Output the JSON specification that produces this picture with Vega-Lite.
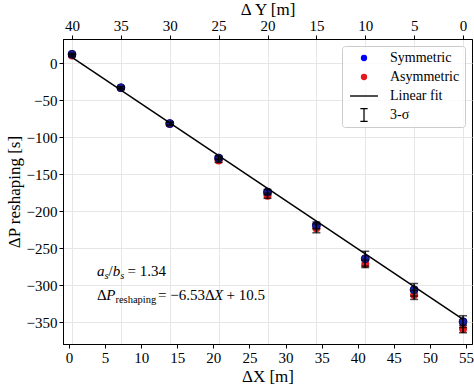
{
  "$schema": "https://vega.github.io/schema/vega-lite/v6.json",
  "width": 409,
  "height": 305,
  "autosize": {"type": "none"},
  "padding": {"left": 63, "top": 39, "right": 2, "bottom": 43},
  "config": {
    "font": "Liberation Serif",
    "view": {"stroke": "black", "strokeWidth": 1},
    "axis": {
      "labelFont": "Liberation Serif", "titleFont": "Liberation Serif",
      "labelFontSize": 15, "titleFontSize": 17, "titleFontWeight": "normal",
      "labelColor": "black", "titleColor": "black", "domainColor": "black",
      "tickColor": "black", "tickSize": 4, "gridColor": "#e6e6e6", "gridWidth": 1,
      "labelPadding": 2, "titlePadding": 3
    },
    "legend": {
      "labelFont": "Liberation Serif", "labelFontSize": 14, "labelColor": "black",
      "padding": 5, "strokeColor": "#cccccc", "fillColor": "rgba(255,255,255,0.8)",
      "cornerRadius": 3, "symbolSize": 40, "labelOffset": 19, "rowPadding": 5, "symbolOffset": 10
    }
  },
  "datasets": {
    "points": [
      {"series": "Asymmetric", "dX": 0.416, "dY": 40, "value": 10.5, "err": 1.5},
      {"series": "Asymmetric", "dX": 7.19, "dY": 35, "value": -33.5, "err": 1.5},
      {"series": "Asymmetric", "dX": 13.96, "dY": 30, "value": -82, "err": 2},
      {"series": "Asymmetric", "dX": 20.73, "dY": 25, "value": -131.5, "err": 2.5},
      {"series": "Asymmetric", "dX": 27.5, "dY": 20, "value": -179, "err": 3.5},
      {"series": "Asymmetric", "dX": 34.27, "dY": 15, "value": -223, "err": 6},
      {"series": "Asymmetric", "dX": 41.04, "dY": 10, "value": -271, "err": 5},
      {"series": "Asymmetric", "dX": 47.81, "dY": 5, "value": -313, "err": 6},
      {"series": "Asymmetric", "dX": 54.59, "dY": 0, "value": -359, "err": 5},
      {"series": "Symmetric", "dX": 0.416, "dY": 40, "value": 12, "err": 1.5},
      {"series": "Symmetric", "dX": 7.19, "dY": 35, "value": -33, "err": 1.5},
      {"series": "Symmetric", "dX": 13.96, "dY": 30, "value": -81.5, "err": 2},
      {"series": "Symmetric", "dX": 20.73, "dY": 25, "value": -128, "err": 2.5},
      {"series": "Symmetric", "dX": 27.5, "dY": 20, "value": -174, "err": 3.5},
      {"series": "Symmetric", "dX": 34.27, "dY": 15, "value": -219, "err": 4.5},
      {"series": "Symmetric", "dX": 41.04, "dY": 10, "value": -264, "err": 10},
      {"series": "Symmetric", "dX": 47.81, "dY": 5, "value": -306, "err": 8.5},
      {"series": "Symmetric", "dX": 54.59, "dY": 0, "value": -349, "err": 8}
    ],
    "fit": [
      {"dX": 0.416, "fit": 7.78},
      {"dX": 54.59, "fit": -345.97}
    ],
    "one": [{}]
  },
  "layer": [
    {
      "data": {"name": "points"},
      "mark": {"type": "point", "filled": true, "opacity": 1, "size": 64},
      "encoding": {
        "x": {"field": "dX", "type": "quantitative", "title": "ΔX [m]",
              "scale": {"domain": [-0.831, 55.83], "nice": false, "zero": false},
              "axis": {"orient": "bottom", "values": [0, 5, 10, 15, 20, 25, 30, 35, 40, 45, 50, 55], "grid": false}},
        "y": {"field": "value", "type": "quantitative", "title": "ΔP reshaping [s]",
              "scale": {"domain": [-379.2, 32.7], "nice": false, "zero": false},
              "axis": {"values": [-350, -300, -250, -200, -150, -100, -50, 0], "grid": true}},
        "color": {"field": "series", "type": "nominal",
                  "scale": {"domain": ["Symmetric", "Asymmetric", "Linear fit", "3-σ"], "range": ["#0000ff", "#e41a1c", "black", "black"]},
                  "legend": {"title": null, "orient": "top-right", "offset": 7}},
        "shape": {"field": "series", "type": "nominal",
                  "scale": {"domain": ["Symmetric", "Asymmetric", "Linear fit", "3-σ"], "range": ["circle", "circle", "M-4.4,-0.22L4.4,-0.22L4.4,0.22L-4.4,0.22Z", "M-0.2,-2.2L0.2,-2.2L0.2,2.2L-0.2,2.2ZM-1.15,-2.2L1.15,-2.2L1.15,-1.8L-1.15,-1.8ZM-1.15,1.8L1.15,1.8L1.15,2.2L-1.15,2.2Z"]},
                  "legend": {"title": null, "orient": "top-right", "offset": 7}}
      }
    },
    {
      "data": {"name": "points"},
      "transform": [{"filter": "datum.series === 'Symmetric'"}],
      "mark": {"type": "point", "opacity": 0},
      "encoding": {
        "x": {"field": "dY", "type": "quantitative", "title": "Δ Y [m]",
              "scale": {"domain": [-0.92, 40.92], "reverse": true, "nice": false, "zero": false},
              "axis": {"orient": "top", "values": [0, 5, 10, 15, 20, 25, 30, 35, 40], "grid": true, "titlePadding": 0}},
        "y": {"field": "value", "type": "quantitative", "title": "ΔP reshaping [s]", "scale": {"domain": [-379.2, 32.7], "nice": false, "zero": false}}
      }
    },
    {
      "data": {"name": "points"},
      "transform": [{"filter": "datum.series === 'Symmetric'"}],
      "mark": {"type": "point", "filled": true, "opacity": 1, "size": 64, "fill": "#1c1c9c", "stroke": "#0c0c5c", "strokeWidth": 0.8},
      "encoding": {
        "x": {"field": "dX", "type": "quantitative", "scale": {"domain": [-0.831, 55.83], "nice": false, "zero": false}, "axis": null},
        "y": {"field": "value", "type": "quantitative", "title": "ΔP reshaping [s]", "scale": {"domain": [-379.2, 32.7], "nice": false, "zero": false}}
      }
    },
    {
      "data": {"name": "points"},
      "mark": {"type": "errorbar", "ticks": true, "color": "black", "thickness": 1.5, "size": 8},
      "encoding": {
        "x": {"field": "dX", "type": "quantitative", "scale": {"domain": [-0.831, 55.83], "nice": false, "zero": false}, "axis": null},
        "y": {"field": "value", "type": "quantitative", "title": "ΔP reshaping [s]", "scale": {"domain": [-379.2, 32.7], "nice": false, "zero": false}},
        "yError": {"field": "err"}
      }
    },
    {
      "data": {"name": "fit"},
      "mark": {"type": "line", "color": "black", "strokeWidth": 1.5},
      "encoding": {
        "x": {"field": "dX", "type": "quantitative", "scale": {"domain": [-0.831, 55.83], "nice": false, "zero": false}, "axis": null},
        "y": {"field": "fit", "type": "quantitative", "title": "ΔP reshaping [s]", "scale": {"domain": [-379.2, 32.7], "nice": false, "zero": false}}
      }
    },
    {"data": {"name": "one"}, "mark": {"type": "text", "text": "a", "align": "left", "baseline": "alphabetic", "fontSize": 15, "fontStyle": "italic", "dx": 0},
     "encoding": {"x": {"datum": 3.88, "type": "quantitative", "scale": {"domain": [-0.831, 55.83], "nice": false, "zero": false}, "axis": null}, "y": {"datum": -287.7, "type": "quantitative", "title": "ΔP reshaping [s]"}}},
    {"data": {"name": "one"}, "mark": {"type": "text", "text": "s", "align": "left", "baseline": "alphabetic", "fontSize": 10.5, "fontStyle": "italic", "dx": 7.5, "dy": 3},
     "encoding": {"x": {"datum": 3.88, "type": "quantitative", "scale": {"domain": [-0.831, 55.83], "nice": false, "zero": false}, "axis": null}, "y": {"datum": -287.7, "type": "quantitative", "title": "ΔP reshaping [s]"}}},
    {"data": {"name": "one"}, "mark": {"type": "text", "text": "/", "align": "left", "baseline": "alphabetic", "fontSize": 15, "dx": 11.6},
     "encoding": {"x": {"datum": 3.88, "type": "quantitative", "scale": {"domain": [-0.831, 55.83], "nice": false, "zero": false}, "axis": null}, "y": {"datum": -287.7, "type": "quantitative", "title": "ΔP reshaping [s]"}}},
    {"data": {"name": "one"}, "mark": {"type": "text", "text": "b", "align": "left", "baseline": "alphabetic", "fontSize": 15, "fontStyle": "italic", "dx": 15.8},
     "encoding": {"x": {"datum": 3.88, "type": "quantitative", "scale": {"domain": [-0.831, 55.83], "nice": false, "zero": false}, "axis": null}, "y": {"datum": -287.7, "type": "quantitative", "title": "ΔP reshaping [s]"}}},
    {"data": {"name": "one"}, "mark": {"type": "text", "text": "s", "align": "left", "baseline": "alphabetic", "fontSize": 10.5, "fontStyle": "italic", "dx": 23.3, "dy": 3},
     "encoding": {"x": {"datum": 3.88, "type": "quantitative", "scale": {"domain": [-0.831, 55.83], "nice": false, "zero": false}, "axis": null}, "y": {"datum": -287.7, "type": "quantitative", "title": "ΔP reshaping [s]"}}},
    {"data": {"name": "one"}, "mark": {"type": "text", "text": "= 1.34", "align": "left", "baseline": "alphabetic", "fontSize": 15, "dx": 30.5},
     "encoding": {"x": {"datum": 3.88, "type": "quantitative", "scale": {"domain": [-0.831, 55.83], "nice": false, "zero": false}, "axis": null}, "y": {"datum": -287.7, "type": "quantitative", "title": "ΔP reshaping [s]"}}},
    {"data": {"name": "one"}, "mark": {"type": "text", "text": "Δ", "align": "left", "baseline": "alphabetic", "fontSize": 15, "dx": 0},
     "encoding": {"x": {"datum": 3.88, "type": "quantitative", "scale": {"domain": [-0.831, 55.83], "nice": false, "zero": false}, "axis": null}, "y": {"datum": -320, "type": "quantitative", "title": "ΔP reshaping [s]"}}},
    {"data": {"name": "one"}, "mark": {"type": "text", "text": "P", "align": "left", "baseline": "alphabetic", "fontSize": 15, "fontStyle": "italic", "dx": 9.2},
     "encoding": {"x": {"datum": 3.88, "type": "quantitative", "scale": {"domain": [-0.831, 55.83], "nice": false, "zero": false}, "axis": null}, "y": {"datum": -320, "type": "quantitative", "title": "ΔP reshaping [s]"}}},
    {"data": {"name": "one"}, "mark": {"type": "text", "text": "reshaping", "align": "left", "baseline": "alphabetic", "fontSize": 10.5, "dx": 18.4, "dy": 3},
     "encoding": {"x": {"datum": 3.88, "type": "quantitative", "scale": {"domain": [-0.831, 55.83], "nice": false, "zero": false}, "axis": null}, "y": {"datum": -320, "type": "quantitative", "title": "ΔP reshaping [s]"}}},
    {"data": {"name": "one"}, "mark": {"type": "text", "text": "= −6.53Δ", "align": "left", "baseline": "alphabetic", "fontSize": 15, "dx": 61},
     "encoding": {"x": {"datum": 3.88, "type": "quantitative", "scale": {"domain": [-0.831, 55.83], "nice": false, "zero": false}, "axis": null}, "y": {"datum": -320, "type": "quantitative", "title": "ΔP reshaping [s]"}}},
    {"data": {"name": "one"}, "mark": {"type": "text", "text": "X", "align": "left", "baseline": "alphabetic", "fontSize": 15, "fontStyle": "italic", "dx": 117},
     "encoding": {"x": {"datum": 3.88, "type": "quantitative", "scale": {"domain": [-0.831, 55.83], "nice": false, "zero": false}, "axis": null}, "y": {"datum": -320, "type": "quantitative", "title": "ΔP reshaping [s]"}}},
    {"data": {"name": "one"}, "mark": {"type": "text", "text": "+ 10.5", "align": "left", "baseline": "alphabetic", "fontSize": 15, "dx": 129.5},
     "encoding": {"x": {"datum": 3.88, "type": "quantitative", "scale": {"domain": [-0.831, 55.83], "nice": false, "zero": false}, "axis": null}, "y": {"datum": -320, "type": "quantitative", "title": "ΔP reshaping [s]"}}}
  ],
  "resolve": {"scale": {"x": "independent"}, "axis": {"x": "independent"}}
}
